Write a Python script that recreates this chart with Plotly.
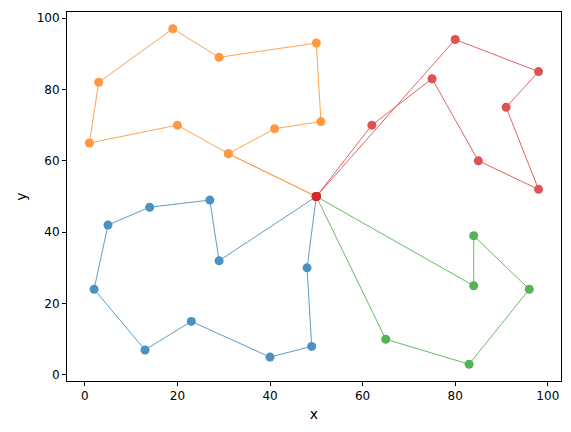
import plotly.graph_objects as go

depot = (50, 50)
route_blue_x = [50, 29, 27, 14, 5, 2, 13, 23, 40, 49, 48, 50]
route_blue_y = [50, 32, 49, 47, 42, 24, 7, 15, 5, 8, 30, 50]
route_orange_x = [50, 31, 20, 1, 3, 19, 29, 50, 51, 41, 31, 50]
route_orange_y = [50, 62, 70, 65, 82, 97, 89, 93, 71, 69, 62, 50]
route_green_x = [50, 65, 83, 96, 84, 84, 50]
route_green_y = [50, 10, 3, 24, 39, 25, 50]
route_red_x = [50, 62, 75, 85, 98, 91, 98, 80, 50]
route_red_y = [50, 70, 83, 60, 52, 75, 85, 94, 50]

routes = [
    (route_blue_x, route_blue_y, '#1f77b4'),
    (route_orange_x, route_orange_y, '#ff7f0e'),
    (route_green_x, route_green_y, '#2ca02c'),
    (route_red_x, route_red_y, '#d62728'),
]

fig = go.Figure()
for xs, ys, c in routes:
    fig.add_trace(go.Scatter(x=xs, y=ys, mode='lines+markers', opacity=0.8,
                             line=dict(color=c, width=0.9),
                             marker=dict(color=c, size=9), showlegend=False))
# depot on top
fig.add_trace(go.Scatter(x=[depot[0]], y=[depot[1]], mode='markers',
                         marker=dict(color='#d62728', size=9), showlegend=False))

axis = dict(showgrid=False, zeroline=False, showline=True, linecolor='black', mirror=True,
            ticks='outside', ticklen=4, tickcolor='black', dtick=20, automargin=False)
fig.update_layout(
    width=571, height=432, plot_bgcolor='white', paper_bgcolor='white',
    margin=dict(l=59, r=18, t=4, b=59),
    font=dict(family='DejaVu Sans', size=12, color='black'),
    xaxis=dict(axis, range=[-3.85, 102.85], title=dict(text='x', standoff=6)),
    yaxis=dict(axis, range=[-1.7, 101.7], title=dict(text='y', standoff=6)),
)
fig.write_html("out.html")
